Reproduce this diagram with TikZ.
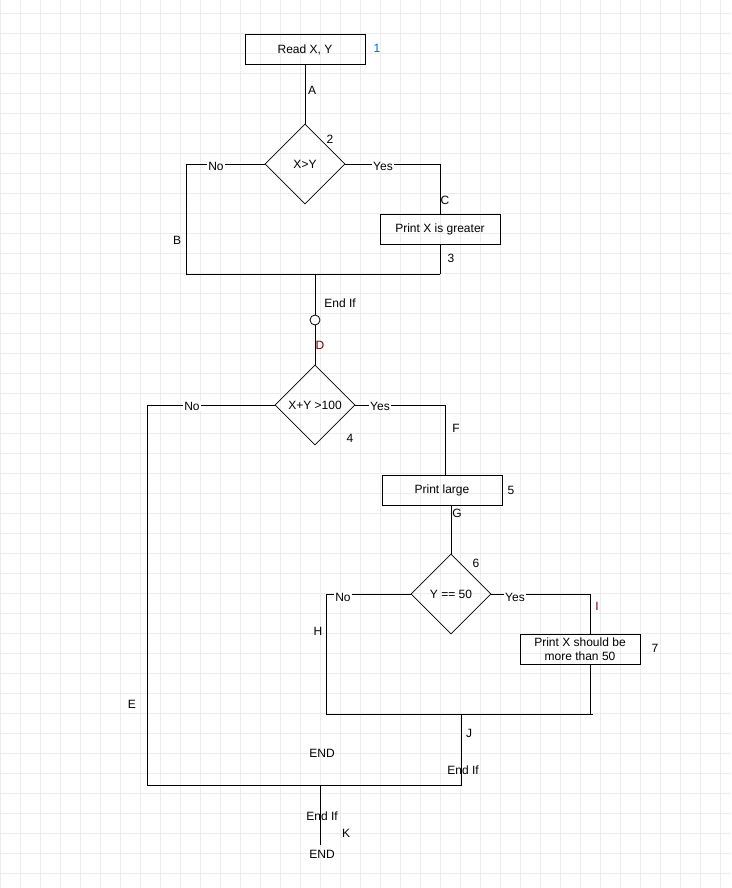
\documentclass[tikz,border=0pt]{standalone}
\usepackage{fontspec}
\setmainfont{Liberation Sans}
\usetikzlibrary{shapes.geometric}
\begin{document}
\begin{tikzpicture}[x=1pt,y=-1pt,
  box/.style={draw,line width=0.8pt,minimum width=120pt,minimum height=30pt,inner sep=1pt,font=\fontsize{12}{14}\selectfont,align=center},
  dia/.style={draw,line width=0.8pt,diamond,minimum width=80pt,minimum height=80pt,inner sep=0pt,font=\fontsize{12}{14}\selectfont},
  lbl/.style={font=\fontsize{12}{14}\selectfont,inner sep=1pt},
  yn/.style={lbl,fill=white},
  ln/.style={line width=0.8pt}]
\useasboundingbox (0,0) rectangle (731,888);
\foreach \x in {0,20,...,720} \draw[gray!15,line width=0.5pt] (\x,0) -- (\x,888);
\foreach \y in {13,33,...,888} \draw[gray!15,line width=0.5pt] (0,\y) -- (731,\y);
% nodes
\node[box] (b1) at (305,49.5) {Read X, Y};
\node[dia] (d1) at (305,164) {X>Y};
\node[box] (b2) at (440,229) {Print X is greater};
\node[draw,circle,minimum size=10pt,inner sep=0pt,line width=0.8pt] (c1) at (315,320) {};
\node[dia] (d2) at (315,405) {X+Y >100};
\node[box] (b3) at (442,490) {Print large};
\node[dia] (d3) at (451,594) {Y == 50};
\node[box] (b4) at (580,649) {Print X should be\\more than 50};
\coordinate (n1) at (186,164); \coordinate (y1) at (440,164);
\coordinate (m1l) at (186,274); \coordinate (m1r) at (440,274); \coordinate (m1) at (315,274);
\coordinate (n2) at (147,405); \coordinate (y2) at (445,405);
\coordinate (n3) at (326,594); \coordinate (y3) at (590,594);
\coordinate (m3l) at (326,714); \coordinate (m3r) at (593,714); \coordinate (m3) at (461,714);
\coordinate (m2l) at (147,785); \coordinate (m2r) at (461,785); \coordinate (m2) at (320,785);
\coordinate (e) at (320,845);
% connectors
\draw[ln] (b1) -- (d1);
\draw[ln] (d1.west) -- (n1) -- (m1l) -- (m1r);
\draw[ln] (d1.east) -- (y1) -- (b2.north -| y1);
\draw[ln] (b2.south) -- (m1r);
\draw[ln] (m1) -- (c1);
\draw[ln] (c1) -- (d2);
\draw[ln] (d2.west) -- (n2) -- (m2l) -- (m2r) -- (m3);
\draw[ln] (d2.east) -- (y2) -- (b3.north -| y2);
\draw[ln] (b3.south -| d3) -- (d3);
\draw[ln] (d3.west) -- (n3) -- (m3l) -- (m3r);
\draw[ln] (d3.east) -- (y3) -- (b4.north -| y3);
\draw[ln] (b4.south -| y3) -- (y3 |- m3r);
\draw[ln] (m2) -- (e);
% labels
\node[yn] at (216,166) {No};
\node[yn] at (383,166) {Yes};
\node[yn] at (192,406) {No};
\node[yn] at (380,406) {Yes};
\node[yn] at (343,597) {No};
\node[yn] at (515,597) {Yes};
\node[lbl,text={rgb,255:red,0;green,102;blue,204}] at (377,48) {1};
\node[lbl] at (312,90) {A};
\node[lbl] at (330,139) {2};
\node[lbl] at (177,240) {B};
\node[lbl] at (445,200) {C};
\node[lbl] at (451,258) {3};
\node[lbl] at (340,303) {End If};
\node[lbl,text={rgb,255:red,102;green,0;blue,0}] at (320,345) {D};
\node[lbl] at (350,438) {4};
\node[lbl] at (456,428) {F};
\node[lbl] at (511,490) {5};
\node[lbl] at (457,513) {G};
\node[lbl] at (476,563) {6};
\node[lbl] at (318,631) {H};
\node[lbl,text={rgb,255:red,102;green,0;blue,51}] at (597,606) {I};
\node[lbl] at (655,648) {7};
\node[lbl] at (132,704) {E};
\node[lbl] at (469,733) {J};
\node[lbl] at (322,753) {END};
\node[lbl] at (463,770) {End If};
\node[lbl] at (322,816) {End If};
\node[lbl] at (346,833) {K};
\node[lbl] at (322,854) {END};
\end{tikzpicture}
\end{document}
